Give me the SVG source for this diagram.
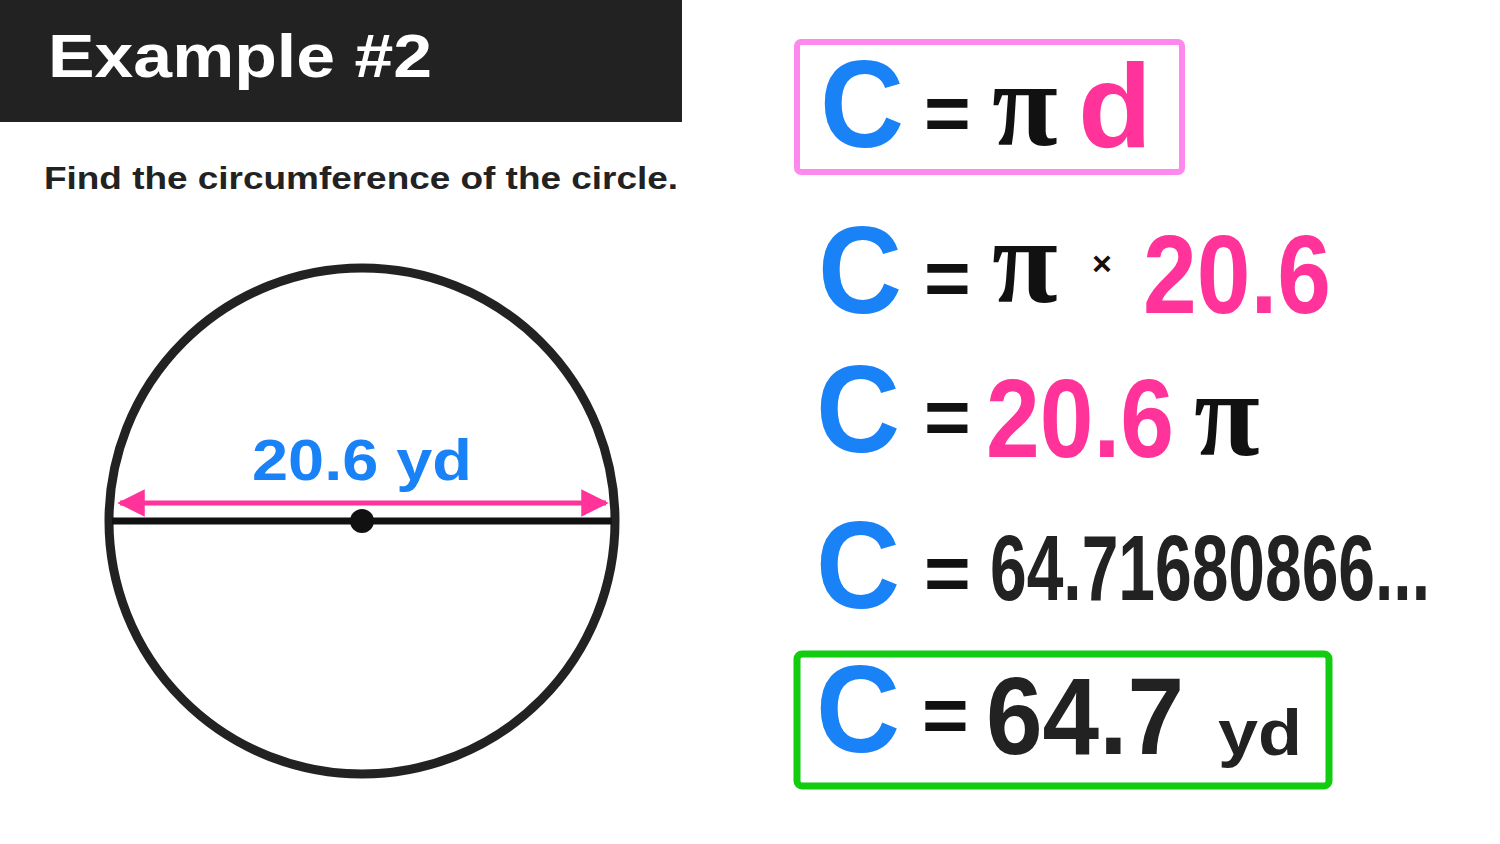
<svg xmlns="http://www.w3.org/2000/svg" width="1500" height="844" viewBox="0 0 1500 844">
<style>
text{font-family:"Liberation Sans","DejaVu Sans",sans-serif}
.c{fill:#1a82f7;font-size:125px;font-weight:bold}
.eq{fill:#111;font-size:80px;font-weight:bold}
.pi{fill:#111;font-size:120px;font-family:"Liberation Serif",serif;font-weight:bold}
.pk{fill:#ff3399;font-weight:bold}
.bk{fill:#222}
</style>
<defs>
<marker id="ah" viewBox="0 0 10 10" refX="9" refY="5" markerWidth="7" markerHeight="5.5" orient="auto-start-reverse" markerUnits="strokeWidth">
<path d="M0,0L10,5L0,10z" fill="#ff3399"/>
</marker>
</defs>
<rect width="1500" height="844" fill="#fff"/>
<g id="header">
<rect x="0" y="0" width="682" height="122" fill="#222"/>
<text x="48" y="77" fill="#fff" font-size="62" font-weight="bold" textLength="384" lengthAdjust="spacingAndGlyphs">Example #2</text>
</g>
<g id="prompt"><text x="44" y="189" fill="#222" font-size="32" font-weight="bold" textLength="634" lengthAdjust="spacingAndGlyphs">Find the circumference of the circle.</text></g>
<g id="circle">
<circle cx="362" cy="521" r="253" fill="none" stroke="#222" stroke-width="9"/>
<line x1="112" y1="521" x2="612" y2="521" stroke="#111" stroke-width="7"/>
<circle cx="362" cy="521" r="12" fill="#111"/>
</g>
<g id="connectors">
<line x1="120" y1="503" x2="606" y2="503" stroke="#ff3399" stroke-width="5" marker-start="url(#ah)" marker-end="url(#ah)"/>
</g>
<g id="label"><text x="362" y="480" text-anchor="middle" fill="#1a82f7" font-size="58" font-weight="bold" textLength="220" lengthAdjust="spacingAndGlyphs">20.6 yd</text></g>
<g id="formula">
<rect x="797" y="42" width="385" height="130" fill="none" stroke="#ff88ee" stroke-width="6" rx="4"/>
<text class="c" x="820" y="147" textLength="84" lengthAdjust="spacingAndGlyphs">C</text>
<text class="eq" x="924" y="140">=</text>
<text class="pi" x="992" y="145">π</text>
<text class="pk" x="1078" y="147" font-size="118" textLength="74" lengthAdjust="spacingAndGlyphs">d</text>
</g>
<g id="step1">
<text class="c" x="818" y="313" textLength="84" lengthAdjust="spacingAndGlyphs">C</text>
<text class="eq" x="924" y="305">=</text>
<text class="pi" x="992" y="302">π</text>
<text x="1092" y="275" font-size="34" font-weight="bold" fill="#111">×</text>
<text class="pk" x="1143" y="313" font-size="112" textLength="188" lengthAdjust="spacingAndGlyphs">20.6</text>
</g>
<g id="step2">
<text class="c" x="816" y="452" textLength="84" lengthAdjust="spacingAndGlyphs">C</text>
<text class="eq" x="924" y="444">=</text>
<text class="pk" x="986" y="457" font-size="112" textLength="188" lengthAdjust="spacingAndGlyphs">20.6</text>
<text class="pi" x="1194" y="455">π</text>
</g>
<g id="step3">
<text class="c" x="816" y="608" textLength="84" lengthAdjust="spacingAndGlyphs">C</text>
<text class="eq" x="924" y="600">=</text>
<text x="990" y="600" fill="#222" font-size="92" font-weight="bold" textLength="440" lengthAdjust="spacingAndGlyphs">64.71680866...</text>
</g>
<g id="answer">
<rect x="797" y="654" width="532" height="132" fill="none" stroke="#11cc11" stroke-width="7" rx="5"/>
<text class="c" x="816" y="752" textLength="84" lengthAdjust="spacingAndGlyphs">C</text>
<text class="eq" x="922" y="742">=</text>
<text class="bk" x="986" y="754" font-size="110" font-weight="bold" textLength="198" lengthAdjust="spacingAndGlyphs">64.7</text>
<text class="bk" x="1218" y="755" font-size="64" font-weight="bold" textLength="84" lengthAdjust="spacingAndGlyphs">yd</text>
</g>
</svg>
